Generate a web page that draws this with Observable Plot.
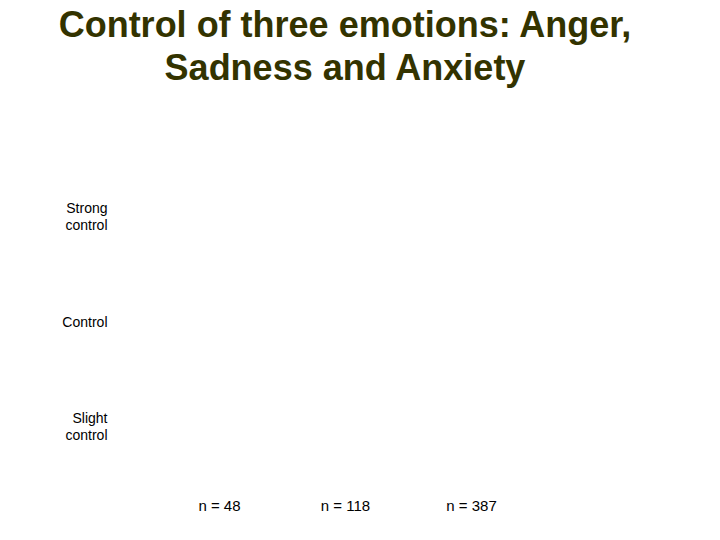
<!DOCTYPE html>
<html>
<head>
<meta charset="utf-8">
<script src="https://cdn.jsdelivr.net/npm/d3@7"></script>
<script src="https://cdn.jsdelivr.net/npm/@observablehq/plot@0.6"></script>
<style>
  html, body { margin: 0; padding: 0; background: #ffffff; }
  #title {
    width: 690px;
    margin: 3px 0 0 0;
    text-align: center;
    font-family: "Liberation Sans", Arial, sans-serif;
    font-weight: bold;
    font-size: 36px;
    line-height: 43px;
    color: #333300;
  }
  #chart svg { display: block; }
</style>
</head>
<body>
<div id="title">Control of three emotions: Anger,<br>Sadness and Anxiety</div>
<div id="chart"></div>
<script>
const controlLevels = ["Strong control", "Control", "Slight control"];
const sampleSizes = [48, 118, 387];
const groupLabels = sampleSizes.map(n => `n = ${n}`);

const chart = Plot.plot({
  width: 720,
  height: 451,
  marginTop: 0,
  marginLeft: 107,
  marginRight: 0,
  marginBottom: 40,
  style: { fontFamily: "'Liberation Sans', Arial, sans-serif", fontSize: "14px", color: "#000000", background: "#ffffff" },
  x: { type: "point", domain: groupLabels, range: [219, 471], padding: 0, label: null },
  y: { type: "point", domain: controlLevels, range: [127, 337], padding: 0, label: null },
  marks: [
    Plot.axisX({ tickSize: 0, tickPadding: 0, fontSize: 15, fill: "#000000", label: null }),
    Plot.axisY({
      tickSize: 0, tickPadding: 0, fontSize: 14, fill: "#000000", label: null,
      lineHeight: 1.2,
      tickFormat: d => d.replace(" ", "\n")
    })
  ]
});
document.getElementById("chart").appendChild(chart);
</script>
</body>
</html>
